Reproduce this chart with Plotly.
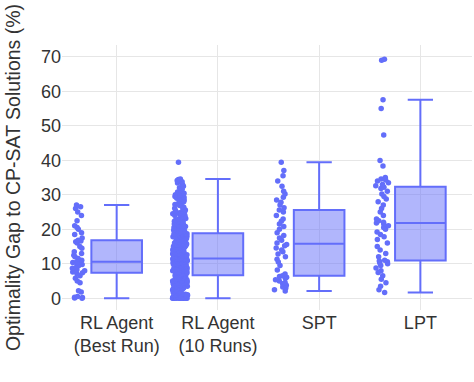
import plotly.graph_objects as go

categories = ["RL Agent<br>(Best Run)", "RL Agent<br>(10 Runs)", "SPT", "LPT"]

best_run = [0.0, 0.1, 0.2, 0.3, 0.5, 1.8, 2.2, 4.5, 5.0, 5.8,
            6.5, 7.0, 7.4, 7.6, 7.8, 8.0, 8.3, 8.7, 9.0, 9.4,
            9.8, 10.0, 10.2, 10.4, 10.5, 10.6, 11.0, 11.5, 12.0, 12.5,
            13.0, 13.5, 14.5, 15.0, 16.0, 16.4, 16.6, 16.8, 17.5, 18.5,
            19.0, 20.0, 20.5, 21.0, 22.5, 24.0, 25.0, 26.0, 26.5, 27.0]

ten_runs = [0, 0, 0, 0, 0, 0, 0, 0, 0, 0, 0, 0.1, 0.1, 0.2, 0.2, 0.3, 0.3, 0.4, 0.5, 0.6, 0.6, 0.7, 0.8, 0.9, 1.0,
            1.1, 1.2, 1.4, 1.5, 1.7, 1.8, 2.0, 2.1, 2.2, 2.4, 2.5, 2.7, 2.8, 2.9, 3.0,
            3.1, 3.2, 3.3, 3.5, 3.6, 3.7, 3.8, 3.9, 4.0, 4.1, 4.3, 4.4, 4.5, 4.6, 4.7,
            4.8, 4.9, 5.0, 5.1, 5.2, 5.3, 5.4, 5.5, 5.6, 5.7, 5.8, 5.9, 6.0, 6.1, 6.2,
            6.3, 6.3, 6.4, 6.5, 6.6,
            6.7, 6.7, 6.8, 6.9, 7.0, 7.1, 7.1, 7.2, 7.3, 7.4, 7.4, 7.5, 7.6, 7.7, 7.7,
            7.8, 7.9, 8.0, 8.0, 8.1, 8.2, 8.3, 8.3, 8.4, 8.5, 8.6, 8.6, 8.7, 8.8, 8.9,
            9.0, 9.0, 9.1, 9.2, 9.3, 9.3, 9.4, 9.5, 9.6, 9.6, 9.7, 9.8, 9.9, 9.9, 10.0,
            10.1, 10.1, 10.2, 10.3, 10.4, 10.4, 10.5, 10.6, 10.6, 10.7, 10.8, 10.8, 10.9, 11.0, 11.0,
            11.1, 11.1, 11.2, 11.2, 11.3, 11.3, 11.4, 11.4, 11.4, 11.5, 11.45, 11.5, 11.5, 11.5, 11.5,
            11.6, 11.7, 11.8, 11.9, 12.0, 12.1, 12.2, 12.3, 12.4, 12.5, 12.6, 12.7, 12.8, 12.9, 13.0,
            13.1, 13.2, 13.3, 13.4, 13.5, 13.6, 13.7, 13.8, 13.9, 14.0, 14.1, 14.2, 14.3, 14.5, 14.6,
            14.7, 14.8, 14.9, 15.0, 15.1, 15.2, 15.3, 15.4, 15.5, 15.6, 15.7, 15.8, 15.9, 16.0, 16.1,
            16.2, 16.3, 16.4, 16.5, 16.6, 16.7, 16.8, 16.9, 17.0, 17.1, 17.2, 17.3, 17.4, 17.5, 17.6,
            17.7, 17.8, 17.9, 18.0, 18.1, 18.2, 18.3, 18.4, 18.5, 18.6, 18.6, 18.7, 18.7, 18.8, 18.8,
            18.9, 19.0, 19.1, 19.3, 19.4, 19.6, 19.7, 19.9, 20.0, 20.2, 20.3, 20.5, 20.6, 20.8, 21.0,
            21.1, 21.3, 21.5, 21.6, 21.8, 22.0, 22.2, 22.3, 22.5, 22.7, 22.9, 23.1, 23.3, 23.5, 23.7,
            23.9, 24.0, 24.2, 24.4, 24.5, 24.6, 24.7, 24.8, 24.9, 25.0,
            25.2, 25.4, 25.6, 25.9, 26.1, 26.4, 26.6, 26.9, 27.2, 27.4, 27.7, 28.0, 28.2, 28.5, 28.8,
            29.0, 29.3, 29.5, 29.7, 29.9, 30.0, 30.0,
            30.4, 30.8, 31.2, 31.6, 32.0, 32.5, 33.0, 33.4, 33.8, 34.1, 34.4, 34.6,
            39.4]

spt = [2.1, 2.5, 3.0, 3.3, 3.8, 4.2, 4.6, 5.0, 5.4, 5.8,
       6.1, 6.3, 6.5, 7.0, 8.2, 9.5, 10.5, 11.3, 12.0, 12.8,
       13.5, 14.0, 14.6, 15.2, 15.6, 16.0, 16.8, 17.5, 18.2, 19.0,
       20.0, 20.8, 21.5, 22.3, 23.0, 24.0, 25.0, 25.6, 26.2, 27.0,
       27.8, 28.5, 29.3, 30.2, 31.0, 32.5, 34.0, 35.5, 37.0, 39.4]

lpt = [1.7, 2.5, 3.5, 4.5, 5.5, 6.5, 7.5, 8.0, 8.8, 9.5,
       10.0, 10.3, 10.6, 10.8, 11.0, 12.0, 13.0, 14.0, 15.0, 16.0,
       17.0, 17.8, 18.5, 19.2, 20.0, 20.5, 21.0, 21.5, 21.8, 22.0,
       22.5, 23.0, 24.0, 25.0, 26.0, 27.0, 28.0, 28.8, 29.5, 30.2,
       31.0, 31.8, 32.2, 32.6, 33.0, 33.5, 34.0, 34.3, 34.6, 35.0,
       38.3, 39.9, 47.3, 55.0, 57.5, 69.0, 69.3]

series = [best_run, ten_runs, spt, lpt]

xs, ys = [], []
for cat, vals in zip(categories, series):
    xs += [cat] * len(vals)
    ys += vals

color = "#636efa"
fig = go.Figure(go.Box(
    x=xs, y=ys,
    boxpoints="all", jitter=0.3, pointpos=-1.5, width=0.5,
    marker=dict(color=color, size=5.5),
    line=dict(color=color, width=2),
    fillcolor="rgba(99,110,250,0.5)",
    showlegend=False,
))

fig.update_layout(
    template="plotly_white",
    width=474, height=382,
    margin=dict(l=62, r=2, t=45, b=72),
    font=dict(family="Liberation Sans, Arial, sans-serif", size=18, color="#333333"),
    plot_bgcolor="white", paper_bgcolor="white",
)
fig.update_yaxes(
    title_text="Optimality Gap to CP-SAT Solutions (%)",
    title_font=dict(size=19.5),
    range=[-3.4, 73.4], dtick=10, gridcolor="#e6e6e6", zeroline=False,
    automargin=False,
)
fig.update_xaxes(
    range=[-0.54, 3.51], gridcolor="#e6e6e6", categoryorder="array", categoryarray=categories,
    automargin=False,
)

fig.write_html(
    "out.html",
    config={"displayModeBar": False},
    post_script="document.body.style.margin='0';document.body.style.overflow='hidden';",
)
